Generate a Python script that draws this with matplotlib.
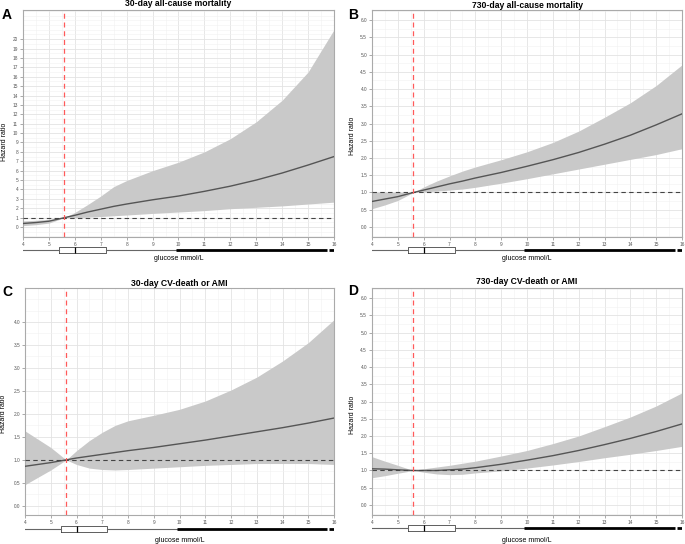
"""Four-panel spline hazard ratio figure for glucose."""
import matplotlib
matplotlib.use('Agg')
import matplotlib.pyplot as plt
from matplotlib.ticker import MultipleLocator

plt.rcParams['font.family'] = ['Liberation Sans', 'DejaVu Sans']

# glucose grid (mmol/L) where curves were read
glucose = [4, 4.5, 5, 5.6, 6, 6.5, 7, 7.5, 8, 9, 10, 11, 12, 13, 14, 15, 16]

hr_a = [0.38, 0.48, 0.62, 1.0, 1.25, 1.6, 1.9, 2.2, 2.45, 2.9, 3.3, 3.8, 4.35, 5.0, 5.75, 6.6, 7.5]
up_a = [0.65, 0.72, 0.82, 1.0, 1.55, 2.4, 3.3, 4.3, 4.95, 6.0, 6.9, 8.0, 9.4, 11.2, 13.5, 16.5, 21.0]
lo_a = [0.15, 0.25, 0.42, 1.0, 1.0, 1.05, 1.12, 1.2, 1.28, 1.45, 1.6, 1.75, 1.95, 2.1, 2.25, 2.45, 2.65]

hr_b = [0.74, 0.81, 0.88, 1.0, 1.07, 1.16, 1.25, 1.33, 1.42, 1.58, 1.76, 1.95, 2.16, 2.4, 2.66, 2.96, 3.28]
up_b = [1.01, 1.01, 1.0, 1.0, 1.16, 1.33, 1.48, 1.62, 1.74, 1.95, 2.18, 2.45, 2.78, 3.18, 3.6, 4.1, 4.7]
lo_b = [0.53, 0.64, 0.77, 1.0, 1.02, 1.04, 1.07, 1.1, 1.15, 1.27, 1.4, 1.54, 1.68, 1.82, 1.96, 2.1, 2.27]

hr_c = [0.86, 0.9, 0.94, 1.0, 1.04, 1.08, 1.12, 1.16, 1.2, 1.27, 1.35, 1.43, 1.52, 1.61, 1.7, 1.8, 1.91]
up_c = [1.63, 1.45, 1.27, 1.0, 1.2, 1.42, 1.6, 1.75, 1.85, 1.97, 2.1, 2.28, 2.52, 2.8, 3.15, 3.55, 4.05]
lo_c = [0.46, 0.62, 0.78, 1.0, 0.9, 0.82, 0.79, 0.78, 0.79, 0.82, 0.85, 0.88, 0.9, 0.92, 0.92, 0.92, 0.9]

hr_d = [1.05, 1.04, 1.02, 1.0, 1.0, 1.0, 1.02, 1.04, 1.08, 1.18, 1.3, 1.43, 1.58, 1.75, 1.93, 2.13, 2.35]
up_d = [1.4, 1.27, 1.15, 1.0, 1.05, 1.1, 1.15, 1.21, 1.27, 1.42, 1.58, 1.78, 2.0, 2.27, 2.55, 2.87, 3.25]
lo_d = [0.79, 0.85, 0.92, 1.0, 0.95, 0.9, 0.88, 0.89, 0.93, 0.99, 1.07, 1.16, 1.26, 1.37, 1.47, 1.58, 1.7]

titles = ['30-day all-cause mortality', '730-day all-cause mortality',
          '30-day CV-death or AMI', '730-day CV-death or AMI']
letters = ['A', 'B', 'C', 'D']
ref_glucose = 5.6

# glucose distribution (boxplot + outlier band)
box_stats = dict(whislo=4.0, q1=5.4, med=6.0, q3=7.2, whishi=9.9)
outlier_runs = [(9.9, 15.72), (15.82, 16.0)]

W, H = 685, 544
fig = plt.figure(figsize=(W / 100, H / 100), dpi=100)


def fx(px):
    return px / W


def fy(py):
    return 1 - py / H


# pixel layout: (left, right, top, bottom), y-limits, major/minor step, label fmt
panels = [
    dict(box=(23, 334, 10, 237), ylim=(-1.06, 23.1), major=1, minor=0.5, fmt='{:.0f}',
         hr=hr_a, up=up_a, lo=lo_a, yticks_max=20, strip=250, xlab=259,
         ylab=(5, 142), letter=(7, 15), title_y=4),
    dict(box=(372, 682, 10, 237), ylim=(-0.29, 6.29), major=0.5, minor=0.25, fmt='{:.1f}',
         hr=hr_b, up=up_b, lo=lo_b, yticks_max=6.0, strip=250, xlab=259,
         ylab=(352, 136), letter=(353, 15), title_y=5),
    dict(box=(25, 334, 288, 515), ylim=(-0.2, 4.74), major=0.5, minor=0.25, fmt='{:.1f}',
         hr=hr_c, up=up_c, lo=lo_c, yticks_max=4.0, strip=529, xlab=540,
         ylab=(4, 414), letter=(7, 292), title_y=283),
    dict(box=(372, 682, 288, 515), ylim=(-0.29, 6.29), major=0.5, minor=0.25, fmt='{:.1f}',
         hr=hr_d, up=up_d, lo=lo_d, yticks_max=6.0, strip=528, xlab=540,
         ylab=(352, 415), letter=(353, 291), title_y=282),
]

for i, p in enumerate(panels):
    l, r, t, b = p['box']
    ax = fig.add_axes([fx(l), fy(b), fx(r - l), (b - t) / H])
    ax.fill_between(glucose, p['lo'], p['up'], color='#c9c9c9', lw=0, zorder=2)
    ax.plot(glucose, p['hr'], color='#555555', lw=1.0, zorder=3)
    ax.axhline(1, color='#444444', lw=0.8, ls=(0, (4, 3)), zorder=4)
    ax.axvline(ref_glucose, color='#ff5a5a', lw=0.9, ls=(0, (4, 3)), zorder=4)
    ax.set_xlim(4, 16)
    ax.set_ylim(*p['ylim'])

    xt = list(range(4, 17))
    ax.set_xticks(xt)
    ax.set_xticklabels([str(v) for v in xt])
    n = int(round(p['yticks_max'] / p['major']))
    yt = [k * p['major'] for k in range(n + 1)]
    ax.set_yticks(yt)
    ax.set_yticklabels([p['fmt'].format(v) for v in yt])
    ax.xaxis.set_minor_locator(MultipleLocator(0.5))
    ax.yaxis.set_minor_locator(MultipleLocator(p['minor']))
    ax.grid(which='major', color='#e3e3e3', lw=0.6, zorder=0)
    ax.grid(which='minor', color='#f1f1f1', lw=0.4, zorder=0)
    ax.set_axisbelow(True)
    ax.tick_params(which='major', length=2, width=0.5, color='#888888',
                   labelsize=3.4, labelcolor='#555555', pad=1.5)
    ax.tick_params(which='minor', length=0)
    for s in ax.spines.values():
        s.set_color('#aaaaaa')
        s.set_linewidth(0.8)

    fig.text(fx((l + r) / 2), fy(p['title_y']), titles[i], ha='center', va='center',
             fontsize=6.2, fontweight='bold')
    fig.text(fx(p['letter'][0]), fy(p['letter'][1]), letters[i], ha='center', va='center',
             fontsize=10, fontweight='bold')
    fig.text(fx(p['ylab'][0]), fy(p['ylab'][1]), 'Hazard ratio', ha='center', va='center',
             rotation=90, fontsize=5)
    fig.text(fx((l + r) / 2), fy(p['xlab']), 'glucose mmol/L', ha='center', va='center',
             fontsize=5)

    # boxplot strip under the axis
    sc = p['strip']
    bx = fig.add_axes([fx(l), fy(sc + 5), fx(r - l), 10 / H])
    bx.set_xlim(4, 16)
    bx.set_ylim(-1, 1)
    bx.axis('off')
    bx.bxp([box_stats], positions=[0], widths=1.05, vert=False, showfliers=False,
           showcaps=False,
           boxprops=dict(color='#444444', lw=0.6),
           whiskerprops=dict(color='#666666', lw=0.8),
           medianprops=dict(color='black', lw=0.9))
    for a, z in outlier_runs:
        bx.plot([a, z], [0, 0], color='black', lw=2.0, solid_capstyle='butt')

fig.savefig('out.png', dpi=100)
plt.close()
